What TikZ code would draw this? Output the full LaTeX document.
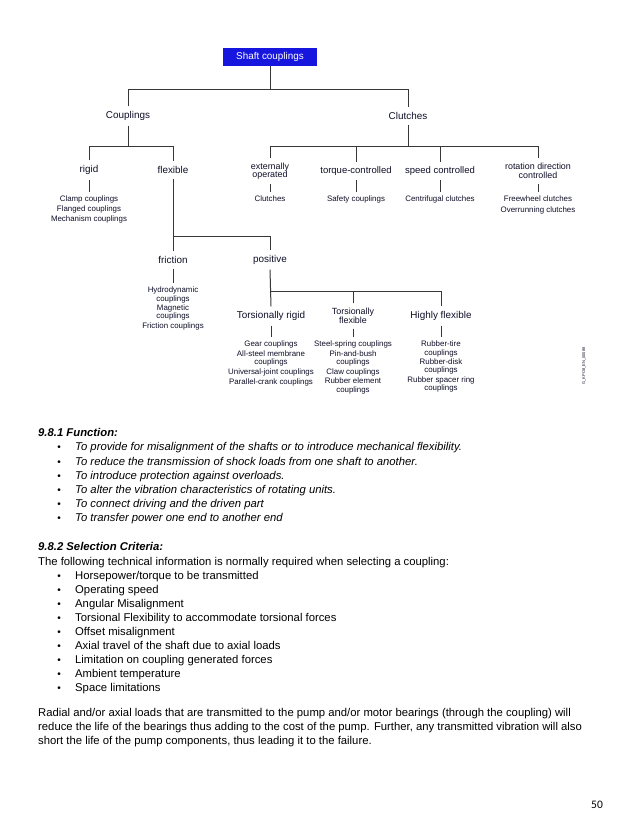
\documentclass[tikz,border=0pt]{standalone}
\usepackage{fontspec}
\setmainfont{Liberation Sans}
\newfontfamily\pagenumfont{Carlito}
\usetikzlibrary{calc}
\definecolor{boxblue}{RGB}{22,22,222}
\definecolor{treeline}{RGB}{55,55,55}
\definecolor{treetext}{RGB}{15,15,40}
\tikzset{
  midtxt/.style={font=\fontsize{9.9}{10}\selectfont, text=treetext, align=center, inner sep=0pt, outer sep=5pt},
  smalltxt/.style={font=\fontsize{8.9}{8.6}\selectfont, text=treetext, align=center, inner sep=0pt, outer sep=5pt},
  leaftxt/.style={font=\fontsize{7.9}{8.8}\selectfont, text=treetext, align=center, inner sep=0pt, outer sep=4pt},
  leaflist/.style={leaftxt, anchor=north, font=\fontsize{7.9}{8.3}\selectfont},
  branch/.style={draw=treeline, line width=1pt},
  bodytxt/.style={font=\fontsize{11.3}{12}\selectfont, anchor=mid west, inner sep=0pt},
  bul/.style={font=\fontsize{10}{12}\selectfont, anchor=mid, inner sep=0pt}
}
\begin{document}
\begin{tikzpicture}[x=1pt,y=-1pt]
\useasboundingbox (0,0) rectangle (638,826);
\fill[white] (0,0) rectangle (638,826);
% ---------- tree ----------
\node[fill=boxblue, text=white, minimum width=94pt, minimum height=18pt, inner sep=0pt,
  font=\fontsize{9.9}{10}\selectfont] (shaft) at (270,57) {Shaft couplings};
\node[midtxt] (coup) at (128,116) {Couplings};
\node[midtxt] (clut) at (408,116) {Clutches};
\coordinate (b1) at (270,90);
\draw[branch] (shaft.south) -- (b1);
\draw[branch] (coup.north) -- (coup.north |- b1) -- (clut.north |- b1) -- (clut.north);

\node[midtxt] (rigid) at (89,170) {rigid};
\node[midtxt] (flex) at (173,170) {flexible};
\coordinate (b2) at (128,147);
\draw[branch] (coup.south) -- (b2);
\draw[branch] (rigid.north) -- (rigid.north |- b2) -- (flex.north |- b2) -- (flex.north);

\node[smalltxt] (ext) at (270,171) {externally\\operated};
\node[smalltxt, font=\fontsize{9.5}{10}\selectfont] (torq) at (356,171) {torque-controlled};
\node[smalltxt, font=\fontsize{9.5}{10}\selectfont] (speed) at (440,171) {speed controlled};
\node[smalltxt] (rot) at (538,171) {rotation direction\\controlled};
\coordinate (b3) at (408,147);
\draw[branch] (clut.south) -- (b3);
\draw[branch] (ext.north) -- (ext.north |- b3) -- (rot.north |- b3) -- (rot.north);
\draw[branch] (torq.north) -- (torq.north |- b3);
\draw[branch] (speed.north) -- (speed.north |- b3);

% leaves of row 1
\node[leaflist, font=\fontsize{7.9}{10}\selectfont] (rigidL) at (89,192) {Clamp couplings\\Flanged couplings\\Mechanism couplings};
\node[leaflist] (extL) at (270,192) {Clutches};
\node[leaflist] (torqL) at (356,192) {Safety couplings};
\node[leaflist] (speedL) at (440,192) {Centrifugal clutches};
\node[leaflist, font=\fontsize{7.9}{10.5}\selectfont] (rotL) at (538,192) {Freewheel clutches\\Overrunning clutches};
\draw[branch] (rigid.south) -- (rigidL.north);
\draw[branch] (ext.south) -- (extL.north);
\draw[branch] (torq.south) -- (torqL.north);
\draw[branch] (speed.south) -- (speedL.north);
\draw[branch] (rot.south) -- (rotL.north);

% flexible branch
\node[midtxt] (fric) at (173,260) {friction};
\node[midtxt] (pos) at (270,260) {positive};
\coordinate (b4) at (173,236);
\draw[branch] (flex.south) -- (b4);
\draw[branch] (fric.north) -- (fric.north |- b4) -- (pos.north |- b4) -- (pos.north);

\node[leaflist] (fricL) at (173,283)
  {Hydrodynamic\\couplings\\[1pt]Magnetic\\couplings\\[1.5pt]Friction couplings};
\draw[branch] (fric.south) -- (fricL.north);

\node[midtxt] (trig) at (271,316) {Torsionally rigid};
\node[smalltxt] (tflex) at (353,316) {Torsionally\\flexible};
\node[midtxt] (hflex) at (441,316) {Highly flexible};
\coordinate (b5) at (270,291);
\draw[branch] (pos.south) -- (trig.north);
\draw[branch] (b5) -- (hflex.north |- b5) -- (hflex.north);
\draw[branch] (tflex.north) -- (tflex.north |- b5);

\node[leaflist] (trigL) at (271,337)
  {Gear couplings\\[1.5pt]All-steel membrane\\couplings\\[1.5pt]Universal-joint couplings\\[1.5pt]Parallel-crank couplings};
\node[leaflist] (tflexL) at (353,337)
  {Steel-spring couplings\\[1.5pt]Pin-and-bush\\couplings\\[1.5pt]Claw couplings\\[1pt]Rubber element\\couplings};
\node[leaflist] (hflexL) at (441,337)
  {Rubber-tire\\couplings\\[1pt]Rubber-disk\\couplings\\[1.5pt]Rubber spacer ring\\couplings};
\draw[branch] (trig.south) -- (trigL.north);
\draw[branch] (tflex.south) -- (tflexL.north);
\draw[branch] (hflex.south) -- (hflexL.north);

\node[rotate=90, font=\fontsize{4}{4}\selectfont, inner sep=0pt, text=treetext] (code) at (584,366) {G\_KPO8\_EN\_00088};

% ---------- text ----------
\node[bodytxt, font=\fontsize{11.3}{12}\selectfont\bfseries\itshape] (h1) at (38,434) {9.8.1 Function:};
\foreach \t [count=\i] in {%
  {To provide for misalignment of the shafts or to introduce mechanical flexibility.},
  {To reduce the transmission of shock loads from one shaft to another.},
  {To introduce protection against overloads.},
  {To alter the vibration characteristics of rotating units.},
  {To connect driving and the driven part},
  {To transfer power one end to another end}} {
  \node[bul] (fb\i) at (59,{434+14.2*\i}) {•};
  \node[bodytxt, font=\fontsize{11.3}{12}\selectfont\itshape] (ft\i) at (75,{434+14.2*\i}) {\t};
}
\node[bodytxt, font=\fontsize{11.3}{12}\selectfont\bfseries\itshape] (h2) at (38,548) {9.8.2 Selection Criteria:};
\node[bodytxt] (intro) at (38,562.5) {The following technical information is normally required when selecting a coupling:};
\foreach \t [count=\i] in {%
  {Horsepower/torque to be transmitted},
  {Operating speed},
  {Angular Misalignment},
  {Torsional Flexibility to accommodate torsional forces},
  {Offset misalignment},
  {Axial travel of the shaft due to axial loads},
  {Limitation on coupling generated forces},
  {Ambient temperature},
  {Space limitations}} {
  \node[bul] (sb\i) at (59,{562.5+14*\i}) {•};
  \node[bodytxt] (st\i) at (75,{562.5+14*\i}) {\t};
}
\node[bodytxt] (p1) at (38,714) {Radial and/or axial loads that are transmitted to the pump and/or motor bearings (through the coupling) will};
\node[bodytxt] (p2) at (38,728) {reduce the life of the bearings thus adding to the cost of the pump. Further, any transmitted vibration will also};
\node[bodytxt] (p3) at (38,742) {short the life of the pump components, thus leading it to the failure.};
\node[font=\pagenumfont\fontsize{11.5}{12}\selectfont, inner sep=0pt, anchor=mid] (pn) at (597,806) {50};
\end{tikzpicture}
\end{document}
